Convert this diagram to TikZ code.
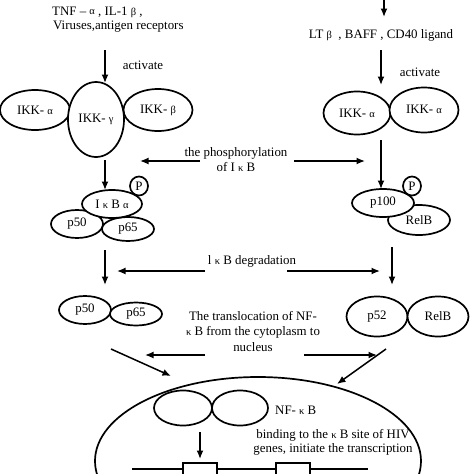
\documentclass[tikz,border=0pt]{standalone}
\usepackage{fontspec}
\setmainfont{Liberation Serif}
\usetikzlibrary{shapes.geometric,arrows.meta}
\newcommand\gk[1]{{\fontsize{10.5}{11}\selectfont #1}}
\begin{document}
\begin{tikzpicture}[x=1pt,y=-1pt,
  font=\fontsize{12.9}{15}\selectfont,
  ell/.style={ellipse, draw, line width=1.7pt, inner sep=0pt, fill=white},
  arr/.style={-{Latex[length=8.5pt,width=7pt]}, line width=1.5pt},
  lbl/.style={inner sep=0pt, align=center}]
\useasboundingbox (0,0) rectangle (474,474);
\clip (0,0) rectangle (474,474);

% ---------- top texts ----------
\node[lbl, anchor=west] (tnf) at (52,12) {TNF -- \raisebox{1pt}{\gk{α}} , IL-1 \gk{β} ,};
\node[lbl, anchor=west] (vir) at (53,27) {Viruses,antigen receptors};
\node[lbl] (ltb) at (381,35) {LT \gk{β}\ \ , BAFF , CD40 ligand};
\node[lbl] (actl) at (143,65) {activate};
\node[lbl] (actr) at (420,72) {activate};

% ---------- left IKK complex ----------
\node[ell, minimum width=70pt, minimum height=40pt] (ikka) at (35,110) {IKK- \gk{α}};
\node[ell, minimum width=69pt, minimum height=42pt] (ikkb) at (158,110) {IKK- \gk{β}};
\node[ell, minimum width=56pt, minimum height=75pt] (ikkg) at (96,119.5) {\raisebox{-8pt}{IKK- \gk{γ}}};

% ---------- right IKK complex ----------
\node[ell, minimum width=67pt, minimum height=43pt] (ikka2) at (357,113) {IKK- \gk{α}};
\node[ell, minimum width=69pt, minimum height=45pt] (ikka3) at (424,110) {\raisebox{2pt}{IKK- \gk{α}}};

% ---------- phosphorylation ----------
\node[lbl] (phos) at (236,160) {the phosphorylation\\of I \gk{κ} B};

% left IkBa complex
\node[ell, minimum width=52pt, minimum height=28pt] (p50a) at (77,224) {p50};
\node[ell, minimum width=52pt, minimum height=24pt] (p65a) at (128,229) {p65};
\node[ell, minimum width=60pt, minimum height=28pt] (ikba) at (112,204) {I \gk{κ} B \gk{α}};
\node[ell, minimum width=18pt, minimum height=19pt] (pa) at (139,186) {P};

% right p100 complex
\node[ell, minimum width=62pt, minimum height=30pt] (relb1) at (419,220) {RelB};
\node[ell, minimum width=62pt, minimum height=28pt] (p100) at (383,203) {p100};
\node[ell, minimum width=18pt, minimum height=19pt] (pb) at (412,186) {P};

% ---------- degradation ----------
\node[lbl] (degr) at (252,261) {l \gk{κ} B degradation};

\node[ell, minimum width=52pt, minimum height=28pt] (p50b) at (85,310) {p50};
\node[ell, minimum width=52pt, minimum height=23pt] (p65b) at (136,314) {p65};
\node[ell, minimum width=61pt, minimum height=40pt] (p52) at (377,316.5) {p52};
\node[ell, minimum width=61pt, minimum height=40pt] (relb2) at (438,316.5) {RelB};

% ---------- translocation ----------
\node[lbl, font=\fontsize{12.9}{15.5}\selectfont] (trans) at (253,331.5) {The translocation of NF-\\\gk{κ} B from the cytoplasm to\\nucleus};

% ---------- nucleus ----------
\node[draw, ellipse, line width=1.7pt, minimum width=326pt, minimum height=168pt, inner sep=0pt] (nuc) at (258,461) {};
\node[ell, minimum width=58pt, minimum height=35pt] (nfa) at (183,408) {};
\node[ell, minimum width=56pt, minimum height=35pt] (nfb) at (240,408) {};
\node[lbl, anchor=west] (nftxt) at (275,410) {NF- \gk{κ} B};
\node[lbl, font=\fontsize{12.9}{14}\selectfont] (bind) at (333,442) {binding to the \gk{κ} B site of HIV\\genes, initiate the transcription};

\coordinate (gl) at (132,469);
\coordinate (gr) at (368,469);
\draw[line width=1.7pt] (gl) -- (gr);
\node[draw, line width=1.7pt, fill=white, anchor=north west, minimum width=34pt, minimum height=30pt, inner sep=0pt] (box1) at (182,462) {};
\node[draw, line width=1.7pt, fill=white, anchor=north west, minimum width=34pt, minimum height=30pt, inner sep=0pt] (box2) at (275,462) {};

% ---------- arrow coordinates ----------
\coordinate (a1s) at (384,-2);   \coordinate (a1e) at (384,17);
\coordinate (a2s) at (105,50);   \coordinate (a2e) at (105,83);
\coordinate (a3s) at (381,50);   \coordinate (a3e) at (381,85);
\coordinate (a4s) at (105,160);  \coordinate (a4e) at (105,190);
\coordinate (a5s) at (381,140);  \coordinate (a5e) at (381,189);
\coordinate (a6s) at (200,161);  \coordinate (a6e) at (140,161);
\coordinate (a7s) at (294,161);  \coordinate (a7e) at (365,161);
\coordinate (a8s) at (105,250);  \coordinate (a8e) at (105,285);
\coordinate (a9s) at (392,247);  \coordinate (a9e) at (392,285);
\coordinate (a10s) at (205,271); \coordinate (a10e) at (117,271);
\coordinate (a11s) at (287,271); \coordinate (a11e) at (380,271);
\coordinate (a12s) at (205,355); \coordinate (a12e) at (145,355);
\coordinate (a13s) at (304,355); \coordinate (a13e) at (377,355);
\coordinate (a14s) at (111,349); \coordinate (a14e) at (171,376);
\coordinate (a15s) at (386,349); \coordinate (a15e) at (337,384);
\coordinate (a16s) at (200,432); \coordinate (a16e) at (200,459);

\foreach \i in {1,...,16} \draw[arr] (a\i s) -- (a\i e);
\end{tikzpicture}
\end{document}
